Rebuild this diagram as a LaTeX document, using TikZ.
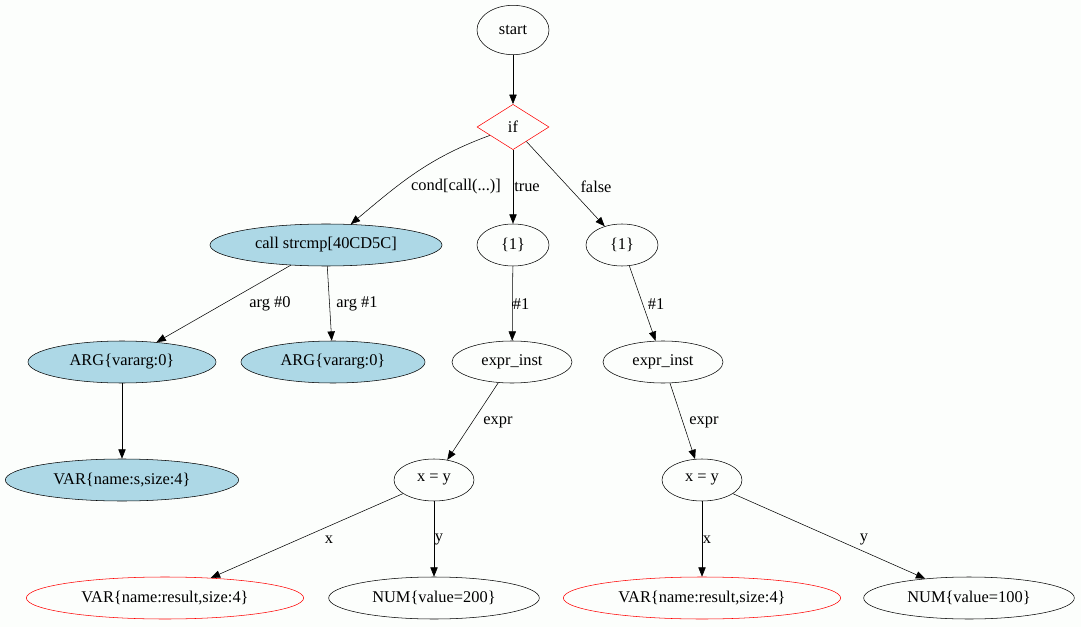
\documentclass[tikz,border=0pt]{standalone}
\usepackage{fontspec}
\setmainfont{Liberation Serif}
\usetikzlibrary{shapes.geometric,arrows.meta}
\definecolor{bg}{HTML}{FCFEFC}
\definecolor{lb}{HTML}{ADD8E6}
\begin{document}
\begin{tikzpicture}[x=0.75pt,y=-0.75pt,
  every node/.style={font=\fontsize{12.3}{14}\selectfont},
  nd/.style={ellipse,draw,inner sep=0pt,minimum height=31.5pt},
  blue/.style={nd,fill=lb},
  redn/.style={nd,draw=red},
  arr/.style={-{Triangle[length=7pt,width=5.5pt]},black},
  lbl/.style={inner sep=1pt}]
\fill[bg] (0,0) rectangle (1081,627);
\useasboundingbox (0,0) rectangle (1081,627);
\node[nd,minimum width=54pt,minimum height=37pt] (start) at (513,30) {start};
\node[diamond,draw=red,inner sep=0pt,minimum width=54pt,minimum height=34pt] (if) at (513,127) {if};
\node[blue,minimum width=174pt] (call) at (326,245) {call strcmp[40CD5C]};
\node[nd,minimum width=54pt] (t1) at (513,245) {\{1\}};
\node[nd,minimum width=54pt] (f1) at (622,245) {\{1\}};
\node[blue,minimum width=141pt] (arg0) at (122,362) {ARG\{vararg:0\}};
\node[blue,minimum width=138pt] (arg1) at (333,362) {ARG\{vararg:0\}};
\node[nd,minimum width=90pt] (e1) at (512,362) {expr\_inst};
\node[nd,minimum width=90pt] (e2) at (663,362) {expr\_inst};
\node[blue,minimum width=175pt] (vs) at (122,480) {VAR\{name:s,size:4\}};
\node[nd,minimum width=60pt] (xy1) at (434,480) {x = y};
\node[nd,minimum width=60pt] (xy2) at (702,480) {x = y};
\node[redn,minimum width=208pt] (vr1) at (165,598) {VAR\{name:result,size:4\}};
\node[nd,minimum width=158pt] (n200) at (434,598) {NUM\{value=200\}};
\node[redn,minimum width=208pt] (vr2) at (702,598) {VAR\{name:result,size:4\}};
\node[nd,minimum width=158pt] (n100) at (969,598) {NUM\{value=100\}};
\draw[arr] (start) -- (if);
\draw[arr] (if) to[out=200,in=40] (call);
\draw[arr] (if) -- (t1);
\draw[arr] (if) -- (f1);
\draw[arr] (call) -- (arg0);
\draw[arr] (call) -- (arg1);
\draw[arr] (t1) -- (e1);
\draw[arr] (f1) -- (e2);
\draw[arr] (arg0) -- (vs);
\draw[arr] (e1) -- (xy1);
\draw[arr] (e2) -- (xy2);
\draw[arr] (xy1) -- (vr1);
\draw[arr] (xy1) -- (n200);
\draw[arr] (xy2) -- (vr2);
\draw[arr] (xy2) -- (n100);
\node[lbl] (l1) at (456,187) {cond[call(...)]};
\node[lbl] (l2) at (527,187) {true};
\node[lbl] (l3) at (596,187) {false};
\node[lbl] (l4) at (270,304) {arg \#0};
\node[lbl] (l5) at (357,304) {arg \#1};
\node[lbl] (l6) at (521,304) {\#1};
\node[lbl] (l7) at (656,304) {\#1};
\node[lbl] (l8) at (498,422) {expr};
\node[lbl] (l9) at (704,422) {expr};
\node[lbl] (l10) at (329,540) {x};
\node[lbl] (l11) at (439,540) {y};
\node[lbl] (l12) at (707,540) {x};
\node[lbl] (l13) at (864,540) {y};
\end{tikzpicture}
\end{document}
